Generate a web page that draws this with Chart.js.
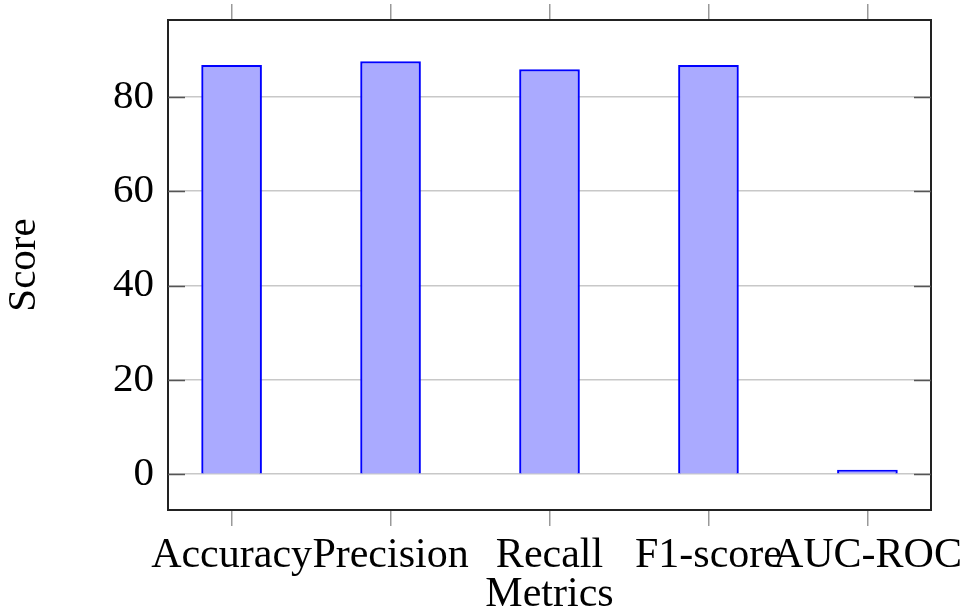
<!DOCTYPE html>
<html>
<head>
<meta charset="utf-8">
<script src="https://cdn.jsdelivr.net/npm/chart.js@4"></script>
<style>
  html, body { margin: 0; padding: 0; background: #fff; }
  #wrap { width: 968px; height: 616px; }
</style>
</head>
<body>
<div id="wrap"><canvas id="scoreChart" width="968" height="616"></canvas></div>
<script>
const categories = ['Accuracy', 'Precision', 'Recall', 'F1-score', 'AUC-ROC'];
const scores = [86.7, 87.5, 85.8, 86.7, 0.87];
const yTicks = [0, 20, 40, 60, 80];

const serif = 'Liberation Serif, Times New Roman, serif';

// pgfplots style: inner ticks on left/right edges
const innerTicks = {
    id: 'innerTicks',
    afterDraw(chart) {
        const ctx = chart.ctx;
        const area = chart.chartArea;
        const y = chart.scales.y;
        ctx.save();
        ctx.strokeStyle = '#555';
        ctx.lineWidth = 1.5;
        yTicks.forEach(v => {
            const py = Math.round(y.getPixelForValue(v)) + 0.5;
            ctx.beginPath();
            ctx.moveTo(area.left, py);
            ctx.lineTo(area.left + 17, py);
            ctx.moveTo(area.right - 17, py);
            ctx.lineTo(area.right, py);
            ctx.stroke();
        });
        ctx.restore();
    }
};

const indexTicks = scale => { scale.ticks = categories.map((c, i) => ({ value: i })); };
const valueTicks = scale => { scale.ticks = yTicks.map(v => ({ value: v })); };
// fixed box sizes so the plot frame lands where the reference has it
const fixSize = (w, h) => s => {
    if (w != null) s.width = w;
    if (h != null) s.height = h;
    s.paddingTop = 0; s.paddingBottom = 0; s.paddingLeft = 0; s.paddingRight = 0;
};

new Chart(document.getElementById('scoreChart'), {
    type: 'bar',
    data: {
        datasets: [{
            label: 'Score',
            data: scores.map((v, i) => ({ x: i, y: v })),
            backgroundColor: '#aaaaff',
            borderColor: '#0000ff',
            borderWidth: 2,
            barThickness: 60
        }]
    },
    options: {
        responsive: false,
        animation: false,
        layout: { padding: 0 },
        plugins: { legend: { display: false }, tooltip: { enabled: false } },
        scales: {
            x: {
                type: 'linear',
                position: 'bottom',
                offset: false,
                min: -0.4,
                max: 4.4,
                afterBuildTicks: indexTicks,
                afterFit: fixSize(null, 106),
                grid: { offset: false, drawOnChartArea: false, tickLength: 16, color: '#999', lineWidth: 1.5 },
                border: { color: '#222', width: 2 },
                ticks: {
                    padding: 5,
                    color: '#000',
                    maxRotation: 0,
                    autoSkip: false,
                    font: { family: serif, size: 42 },
                    callback: v => categories[v]
                },
                title: {
                    display: true,
                    text: 'Metrics',
                    color: '#000',
                    padding: 0,
                    font: { family: serif, size: 42, lineHeight: 1 }
                }
            },
            x2: {
                type: 'linear',
                position: 'top',
                offset: false,
                min: -0.4,
                max: 4.4,
                afterBuildTicks: indexTicks,
                afterFit: fixSize(null, 20),
                grid: { offset: false, drawOnChartArea: false, tickLength: 16, color: '#999', lineWidth: 1.5 },
                border: { color: '#222', width: 2 },
                ticks: { display: false }
            },
            y: {
                type: 'linear',
                position: 'left',
                min: -7.6,
                max: 96.3,
                afterBuildTicks: valueTicks,
                afterFit: fixSize(168, null),
                grid: { color: '#c8c8c8', lineWidth: 1.5, drawTicks: false },
                border: { color: '#222', width: 2 },
                ticks: {
                    padding: 14,
                    color: '#000',
                    font: { family: serif, size: 41 }
                },
                title: {
                    display: true,
                    text: 'Score',
                    color: '#000',
                    padding: 0,
                    font: { family: serif, size: 41 }
                }
            },
            y2: {
                type: 'linear',
                position: 'right',
                min: -7.6,
                max: 96.3,
                afterBuildTicks: valueTicks,
                afterFit: fixSize(37, null),
                grid: { drawOnChartArea: false, drawTicks: false },
                border: { color: '#222', width: 2 },
                ticks: { display: false }
            }
        }
    },
    plugins: [innerTicks]
});
</script>
</body>
</html>
